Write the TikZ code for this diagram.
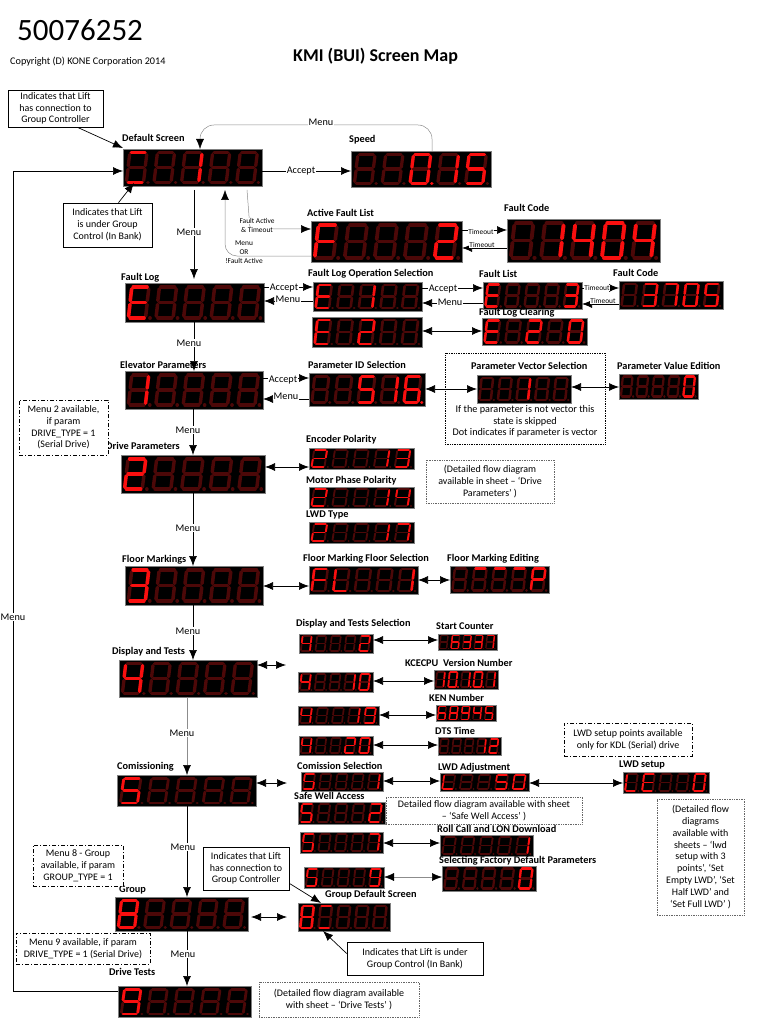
\documentclass[tikz,border=0pt]{standalone}
\usepackage{fontspec}
\setmainfont{Carlito}
\usetikzlibrary{arrows.meta}
\definecolor{ledred}{RGB}{250,15,15}
\definecolor{leddark}{RGB}{76,8,8}
\tikzstyle{ledbox}=[rectangle,fill=black,draw=black!50,line width=0.6pt,inner sep=0pt,outer sep=0pt]
\tikzstyle{ledon}=[draw=ledred,line cap=round]
\tikzstyle{ledoff}=[draw=leddark,line cap=round]
\tikzstyle{screenlabel}=[anchor=west,inner sep=0pt,font=\fontsize{10.3}{12}\selectfont\bfseries]
\tikzstyle{edgelabel}=[fill=white,inner sep=0.6pt,font=\fontsize{10.2}{12}\selectfont]
\tikzstyle{tinylabel}=[fill=white,inner sep=0.3pt,font=\fontsize{7.4}{8}\selectfont]
\tikzstyle{notebox}=[rectangle,draw=black,line width=0.7pt,fill=white,inner sep=0pt,align=center,font=\fontsize{10}{11.8}\selectfont]
\tikzstyle{dashbox}=[notebox,dash pattern=on 4pt off 2pt on 1pt off 2pt]
\tikzstyle{dotbox}=[notebox,draw=black!60,densely dotted]
\tikzstyle{edge}=[draw,line width=0.7pt,-{Latex[length=10pt,width=8pt]}]
\tikzstyle{bothedge}=[draw,line width=0.7pt,{Latex[length=10pt,width=8pt]}-{Latex[length=10pt,width=8pt]}]
\tikzstyle{greyedge}=[draw=black!45,line width=0.5pt,-{Latex[length=10pt,width=8pt,black]}]
% one 7-segment digit, segments a-g and dot p, in a unit square
\newcommand{\sega}[1]{\draw[#1] (0.30,0.10) -- (0.80,0.10);}
\newcommand{\segb}[1]{\draw[#1] (0.86,0.15) -- (0.81,0.45);}
\newcommand{\segc}[1]{\draw[#1] (0.80,0.55) -- (0.75,0.85);}
\newcommand{\segd}[1]{\draw[#1] (0.69,0.90) -- (0.19,0.90);}
\newcommand{\sege}[1]{\draw[#1] (0.13,0.85) -- (0.18,0.55);}
\newcommand{\segf}[1]{\draw[#1] (0.19,0.45) -- (0.24,0.15);}
\newcommand{\segg}[1]{\draw[#1] (0.25,0.50) -- (0.74,0.50);}
\newcommand{\segp}[1]{\draw[#1] (0.90,0.90) -- (0.91,0.90);}
\newcommand{\segn}[1]{}
\newcommand{\ledchar}[2]{\expandafter\def\csname ledchar#1\endcsname{#2}}
\ledchar{-}{n}
\ledchar{0}{a,b,c,d,e,f}
\ledchar{1}{b,c}
\ledchar{2}{a,b,g,e,d}
\ledchar{3}{a,b,g,c,d}
\ledchar{4}{f,g,b,c}
\ledchar{5}{a,f,g,c,d}
\ledchar{6}{a,f,g,e,c,d}
\ledchar{7}{a,b,c}
\ledchar{8}{a,b,c,d,e,f,g}
\ledchar{9}{a,b,c,d,f,g}
\ledchar{E}{a,f,g,e,d}
\ledchar{F}{a,f,g,e}
\ledchar{L}{f,e,d}
\ledchar{P}{a,b,g,f,e}
\ledchar{0p}{a,b,c,d,e,f,p}
\ledchar{1p}{b,c,p}
\ledchar{6p}{a,f,g,e,c,d,p}
\ledchar{T}{a}
\ledchar{B}{a,d}
% name, x1, y1, x2, y2, five digits
\newcommand{\leddisplay}[6]{%
  \pgfmathsetmacro{\ledw}{(#4-#2-1)/5}
  \pgfmathsetmacro{\ledh}{#5-#3}
  \node[ledbox,minimum width={(#4-#2)*1pt},minimum height={(#5-#3)*1pt}] (#1) at ({(#2+#4)/2},{(#3+#5)/2}) {};
  \foreach \ch [count=\i from 0] in {#6} {
    \begin{scope}[shift={({#2+\i*\ledw},#3)},x=\ledw pt,y=-\ledh pt,line width={0.09*\ledh*1pt}]
      \foreach \s in {a,b,c,d,e,f,g,p} {\csname seg\s\endcsname{ledoff}}
      \expandafter\let\expandafter\ledlit\csname ledchar\ch\endcsname
      \foreach \s in \ledlit {\csname seg\s\endcsname{ledon}}
    \end{scope}
  }
}
\begin{document}
\begin{tikzpicture}[x=1pt,y=-1pt]
    \useasboundingbox (0,0) rectangle (768,1024);

    % title texts
    \node[anchor=west,inner sep=0pt,font=\fontsize{31}{33}\selectfont] (titleNumber) at (17,30) {50076252};
    \node[anchor=west,inner sep=0pt,font=\fontsize{10.2}{12}\selectfont] (titleCopy) at (10,62) {Copyright (D) KONE Corporation 2014};
    \node[anchor=west,inner sep=0pt,font=\fontsize{18}{20}\selectfont\bfseries] (titleMap) at (293,56) {KMI (BUI) Screen Map};

    % dotted box behind the vector selection
    \node[notebox,densely dotted,minimum width=160pt,minimum height=91pt] (vectorBox) at (525,398.5) {};
    \node[inner sep=0pt,align=center,font=\fontsize{10.2}{11.6}\selectfont] (vectorText) at (525,421.5) {If the parameter is not vector this\\state is skipped\\Dot indicates if parameter is vector};

    % main column
    \leddisplay{dsDefault}{123}{149}{262}{186}{B,-,1,-,-}
    \leddisplay{dsFaultLog}{125}{283}{264}{322}{E,-,-,-,-}
    \leddisplay{dsElevator}{125}{371}{263}{409}{1,-,-,-,-}
    \leddisplay{dsDrive}{121}{455}{265}{493}{2,-,-,-,-}
    \leddisplay{dsFloor}{125}{566}{263}{605}{3,-,-,-,-}
    \leddisplay{dsTests}{119}{660}{257}{697}{4,-,-,-,-}
    \leddisplay{dsComm}{117}{775}{256}{806}{5,-,-,-,-}
    \leddisplay{dsGroup}{115}{897}{248}{931}{8,-,-,-,-}
    \leddisplay{dsDriveTests}{118}{986}{251}{1017}{9,-,-,-,-}
    % top rows
    \leddisplay{dsSpeed}{351}{151}{491}{187}{-,-,0p,1,5}
    \leddisplay{dsActive}{311}{221}{462}{262}{F,-,-,-,2}
    \leddisplay{dsCodeA}{507}{219}{660}{262}{-,1,4,0,4}
    \leddisplay{dsOpOne}{313}{282}{422}{311}{E,-,1,-,-}
    \leddisplay{dsOpTwo}{312}{317}{422}{347}{E,-,2,-,-}
    \leddisplay{dsList}{483}{282}{582}{309}{E,-,-,-,3}
    \leddisplay{dsCodeB}{619}{281}{723}{309}{-,3,7,0,5}
    \leddisplay{dsClear}{482}{318}{587}{345}{E,-,2,-,0}
    % parameters
    \leddisplay{dsParam}{309}{373}{425}{406}{-,-,5,1,6p}
    \leddisplay{dsVector}{477}{375}{571}{403}{-,-,1,-,-}
    \leddisplay{dsValue}{619}{374}{698}{399}{-,-,-,-,0}
    \leddisplay{dsEncoder}{309}{448}{414}{469}{2,-,-,1,3}
    \leddisplay{dsMotor}{309}{487}{414}{508}{2,-,-,1,4}
    \leddisplay{dsLwdType}{309}{522}{414}{543}{2,-,-,1,7}
    \leddisplay{dsMarkSel}{309}{566}{418}{594}{F,L,-,-,1}
    \leddisplay{dsMarkEdit}{450}{566}{549}{593}{-,T,T,T,P}
    % display and tests
    \leddisplay{dsDispA}{299}{634}{373}{653}{4,-,-,-,2}
    \leddisplay{dsStart}{438}{634}{497}{650}{-,6,3,3,7}
    \leddisplay{dsDispB}{298}{672}{373}{692}{4,-,-,1,0}
    \leddisplay{dsVersion}{434}{670}{498}{689}{1,0p,1p,0p,1}
    \leddisplay{dsDispC}{298}{706}{379}{725}{4,-,-,1,9}
    \leddisplay{dsKen}{436}{705}{496}{721}{6,8,9,4,5}
    \leddisplay{dsDispD}{299}{736}{373}{755}{4,-,-,2,0}
    \leddisplay{dsTime}{438}{737}{501}{755}{-,-,-,1,2}
    % commissioning
    \leddisplay{dsCommA}{301}{772}{383}{791}{5,-,-,-,1}
    \leddisplay{dsAdjust}{440}{773}{529}{791}{L,-,-,5,0}
    \leddisplay{dsSetup}{623}{772}{709}{793}{L,E,-,-,0}
    \leddisplay{dsCommB}{298}{802}{385}{824}{5,-,-,-,2}
    \leddisplay{dsCommC}{300}{832}{383}{853}{5,-,-,-,7}
    \leddisplay{dsRoll}{440}{835}{533}{856}{-,-,-,-,1}
    \leddisplay{dsCommD}{304}{867}{384}{888}{5,-,-,-,9}
    \leddisplay{dsFactory}{442}{866}{536}{891}{-,-,-,-,0}
    \leddisplay{dsGroupDef}{298}{903}{390}{931}{8,B,-,-,-}

    % names over the displays
    \foreach \pos/\name/\label in {{(122,138)/lblDefault/Default Screen}, {(349,140)/lblSpeed/Speed}, {(307,213)/lblActive/Active Fault List},
        {(504,208)/lblCodeA/Fault Code}, {(121,278)/lblFaultLog/Fault Log}, {(308,274)/lblOp/Fault Log Operation Selection},
        {(479,274)/lblList/Fault List}, {(613,273)/lblCodeB/Fault Code}, {(479,313)/lblClear/Fault Log Clearing},
        {(120,365)/lblElevator/Elevator Parameters}, {(308,365)/lblParam/Parameter ID Selection}, {(471,366)/lblVector/Parameter Vector Selection},
        {(617,366)/lblValue/Parameter Value Edition}, {(106,446)/lblDrive/Drive Parameters}, {(306,440)/lblEncoder/Encoder Polarity},
        {(306,481)/lblMotor/Motor Phase Polarity}, {(306,515)/lblLwdType/LWD Type}, {(122,560)/lblFloor/Floor Markings},
        {(303,559)/lblMarkSel/Floor Marking Floor Selection}, {(447,559)/lblMarkEdit/Floor Marking Editing}, {(296,624)/lblDisp/Display and Tests Selection},
        {(436,626)/lblStart/Start Counter}, {(405,663)/lblVersion/KCECPU~~Version Number}, {(429,698)/lblKen/KEN Number},
        {(435,731)/lblTime/DTS Time}, {(112,652)/lblTests/Display and Tests}, {(117,767)/lblComm/Comissioning},
        {(297,766)/lblCommSel/Comission Selection}, {(438,768)/lblAdjust/LWD Adjustment}, {(619,765)/lblSetup/LWD setup},
        {(294,796)/lblSafe/Safe Well Access}, {(437,829)/lblRoll/Roll Call and LON Download}, {(439,861)/lblFactory/Selecting Factory Default Parameters},
        {(119,890)/lblGroup/Group}, {(325,895)/lblGroupDef/Group Default Screen}, {(109,972)/lblDriveTests/Drive Tests}}
        \node[screenlabel] (\name) at \pos {\label};

    % notes
    \node[notebox,minimum width=95pt,minimum height=37pt] (noteLiftA) at (55.5,108.5) {Indicates that Lift\\has connection to\\Group Controller};
    \node[notebox,minimum width=89pt,minimum height=44pt] (noteBankA) at (107.5,225) {Indicates that Lift\\is under Group\\Control (In Bank)};
    \node[dashbox,minimum width=89pt,minimum height=55pt] (noteMenuTwo) at (63.5,427.5) {Menu 2 available,\\if param\\DRIVE\_TYPE = 1\\(Serial Drive)};
    \node[dotbox,minimum width=128pt,minimum height=43pt] (noteDriveSheet) at (490,481.5) {(Detailed flow diagram\\available in sheet – ‘Drive\\Parameters’ )};
    \node[dashbox,minimum width=128pt,minimum height=33pt] (noteLwdPoints) at (628,739.5) {LWD setup points available\\only for KDL (Serial) drive};
    \node[dotbox,minimum width=196pt,minimum height=27pt] (noteSafe) at (484,810.5) {Detailed flow diagram available with sheet\\– ‘Safe Well Access’ )};
    \node[dotbox,minimum width=87pt,minimum height=116pt] (noteLwdSheet) at (700.5,857) {(Detailed flow\\diagrams\\available with\\sheets – ‘lwd\\setup with 3\\points’,  ‘Set\\Empty LWD’, ‘Set\\Half LWD’ and\\‘Set Full LWD’ )};
    \node[dashbox,minimum width=90pt,minimum height=41pt] (noteMenuEight) at (78,865.5) {Menu 8 - Group\\available, if param\\GROUP\_TYPE = 1};
    \node[dashbox,minimum width=134pt,minimum height=31pt] (noteMenuNine) at (83,948.5) {Menu 9 available, if param\\DRIVE\_TYPE = 1 (Serial Drive)};
    \node[notebox,minimum width=86pt,minimum height=43pt] (noteLiftB) at (246,868.5) {Indicates that Lift\\has connection to\\Group Controller};
    \node[notebox,minimum width=136pt,minimum height=33pt] (noteBankB) at (415,958.5) {Indicates that Lift is under\\Group Control (In Bank)};
    \node[dotbox,minimum width=160pt,minimum height=35pt] (noteTestsSheet) at (339,999.5) {(Detailed flow diagram available\\with sheet – ‘Drive Tests’ )};

    % free ends and bends of the lines
    \coordinate (backLow) at (13,991);
    \coordinate (backHigh) at (13,171);
    \coordinate (loopRight) at (432,125);
    \coordinate (loopLeft) at (200,125);
    \coordinate (activeBend) at (225,256);
    \coordinate (activeTip) at (225,190);
    \coordinate (timeoutStart) at (247,190);
    \coordinate (timeoutBend) at (250,229);

    % notes to the displays
    \draw[edge] ([xshift=22pt]noteLiftA.south) -- ([yshift=1pt]dsDefault.north west);
    \draw[edge] ([xshift=11pt]noteBankA.north) -- ([xshift=11pt,yshift=3pt]dsDefault.south west);
    \draw[edge] ([yshift=7pt]noteLiftB.south east) -- ([xshift=23pt]dsGroupDef.north west);
    \draw[edge] ([yshift=5pt]noteBankB.west) -- ([xshift=25pt]dsGroupDef.south west);

    % long way back and the loops
    \draw[edge] (dsDriveTests.west |- backLow) -- (backLow) -- (backHigh) -- (dsDefault.west |- backHigh);
    \draw[greyedge,rounded corners=14pt] (dsSpeed.north -| loopRight) -- (loopRight) -- (loopLeft) -- (dsDefault.north -| loopLeft);
    \draw[greyedge,rounded corners=12pt] (dsActive.west |- activeBend) -- (activeBend) -- (activeTip);
    \draw[greyedge,rounded corners=3pt] (timeoutStart) -- (timeoutBend) -- (dsActive.west |- timeoutBend);

    % right going and left going lines
    \foreach \source/\dest/\yval in {dsDefault/dsSpeed/171, dsActive/dsCodeA/230, dsFaultLog/dsOpOne/287, dsOpOne/dsList/288, dsList/dsCodeB/288, dsElevator/dsParam/378}
        \path[edge] (\source.east |- 0,\yval) -- (\dest.west |- 0,\yval);
    \foreach \source/\dest/\yval in {dsCodeA/dsActive/248, dsOpOne/dsFaultLog/301, dsList/dsOpOne/303, dsCodeB/dsList/304, dsParam/dsElevator/399}
        \path[edge] (\source.west |- 0,\yval) -- (\dest.east |- 0,\yval);

    % lines with a tip at both ends
    \foreach \source/\dest/\yval in {dsOpTwo/dsClear/331, dsParam/dsVector/389, dsVector/dsValue/387, dsDrive/dsEncoder/467, dsFloor/dsMarkSel/586, dsMarkSel/dsMarkEdit/580,
        dsDispA/dsStart/640, dsDispB/dsVersion/681, dsDispC/dsKen/715, dsDispD/dsTime/745, dsCommA/dsAdjust/781, dsAdjust/dsSetup/783, dsCommC/dsRoll/843}
        \path[bothedge] (\source.east |- 0,\yval) -- (\dest.west |- 0,\yval);
    \path[greyedge,{Latex[length=10pt,width=8pt,black]}-{Latex[length=10pt,width=8pt,black]}] (dsCommD.east |- 0,877) -- (dsFactory.west |- 0,877);
    \path[bothedge,shorten <=3pt,shorten >=11pt] (dsGroup.east |- 0,917) -- (dsGroupDef.west |- 0,917);
    \path[bothedge,shorten >=12pt] (dsTests.east |- 0,665) -- (dsDispB.west |- 0,665);
    \path[bothedge,shorten >=14pt] (dsComm.east |- 0,783) -- (dsCommA.west |- 0,783);

    % menu column
    \draw[edge,shorten <=4pt,shorten >=4pt] (dsDefault.south -| 194,0) -- (dsFaultLog.north -| 194,0);
    \foreach \source/\dest/\xval in {dsFaultLog/dsElevator/194, dsElevator/dsDrive/193, dsDrive/dsFloor/193, dsFloor/dsTests/193, dsComm/dsGroup/187, dsGroup/dsDriveTests/187}
        \path[edge] (\source.south -| \xval,0) -- (\dest.north -| \xval,0);
    \path[greyedge] (dsTests.south -| 187,0) -- (dsComm.north -| 187,0);

    % texts on the lines
    \foreach \pos/\name/\label in {{(321,122)/txtLoop/Menu}, {(301,171)/txtAccept/Accept}, {(189,232)/txtMenuA/Menu}, {(284,288)/txtAcceptB/Accept}, {(288,299)/txtMenuB/Menu},
        {(443,289)/txtAcceptC/Accept}, {(450,302)/txtMenuC/Menu}, {(189,343)/txtMenuD/Menu}, {(283,380)/txtAcceptD/Accept}, {(286,396)/txtMenuE/Menu},
        {(188,430)/txtMenuF/Menu}, {(188,528)/txtMenuG/Menu}, {(188,631)/txtMenuH/Menu}, {(182,733)/txtMenuI/Menu}, {(183,847)/txtMenuJ/Menu}, {(183,954)/txtMenuK/Menu}, {(13,617)/txtBack/Menu}}
        \node[edgelabel] (\name) at \pos {\label};
    \foreach \pos/\name/\label in {{(257,221)/txtActiveA/Fault Active}, {(257,230)/txtActiveB/\& Timeout}, {(244,243)/txtBackA/Menu}, {(244,252)/txtBackB/OR}, {(244,261)/txtBackC/!Fault Active},
        {(481,232)/txtOutA/Timeout}, {(482,245)/txtOutB/Timeout}, {(597,288)/txtOutC/Timeout}, {(603,301)/txtOutD/Timeout}}
        \node[tinylabel] (\name) at \pos {\label};
\end{tikzpicture}
\end{document}
